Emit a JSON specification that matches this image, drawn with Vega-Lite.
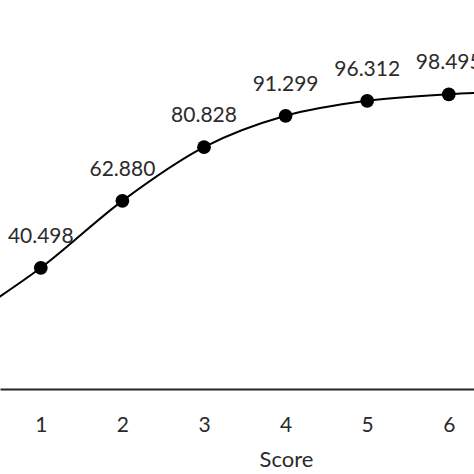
{
  "$schema": "https://vega.github.io/schema/vega-lite/v6.json",
  "width": 474,
  "height": 389,
  "padding": {"left": 0, "top": 0, "right": 0, "bottom": 85},
  "autosize": {"type": "none"},
  "background": "white",
  "config": {
    "view": {"stroke": null},
    "font": "Lato"
  },
  "data": {
    "values": [
      {"Score": 0, "Value": 22.0},
      {"Score": 1, "Value": 40.498},
      {"Score": 2, "Value": 62.880},
      {"Score": 3, "Value": 80.828},
      {"Score": 4, "Value": 91.299},
      {"Score": 5, "Value": 96.312},
      {"Score": 6, "Value": 98.495},
      {"Score": 7, "Value": 99.5}
    ]
  },
  "encoding": {
    "x": {
      "field": "Score",
      "type": "quantitative",
      "title": "Score",
      "scale": {"domain": [0.5, 6.309], "nice": false, "zero": false},
      "axis": {
        "values": [1, 2, 3, 4, 5, 6],
        "grid": false,
        "ticks": false,
        "domainColor": "#262626",
        "domainWidth": 2,
        "labelFont": "Lato",
        "labelFontSize": 21,
        "labelColor": "#2b2b2b",
        "labelPadding": 25,
        "labelFlush": false,
        "titleFont": "Lato",
        "titleFontSize": 22,
        "titleFontWeight": "normal",
        "titleColor": "#2b2b2b",
        "titlePadding": 14,
        "titleX": 286,
        "titleAlign": "center"
      }
    },
    "y": {
      "field": "Value",
      "type": "quantitative",
      "scale": {"domain": [0, 130], "nice": false},
      "axis": null
    }
  },
  "layer": [
    {
      "mark": {"type": "line", "interpolate": "monotone", "color": "black", "strokeWidth": 2, "clip": true}
    },
    {
      "mark": {"type": "point", "filled": true, "color": "black", "size": 190, "opacity": 1, "clip": true}
    },
    {
      "transform": [{"filter": "datum.Score >= 1 && datum.Score <= 6"}],
      "mark": {"type": "text", "font": "Lato", "fontSize": 21, "color": "#2b2b2b", "baseline": "middle", "align": "center", "dy": -31},
      "encoding": {
        "text": {"field": "Value", "type": "quantitative", "format": ".3f"}
      }
    }
  ]
}
